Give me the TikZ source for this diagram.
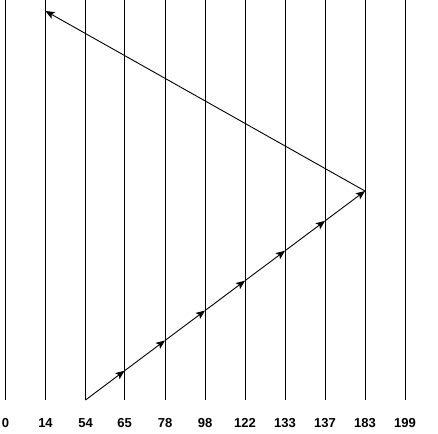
\documentclass[tikz,border=0pt]{standalone}
\usepackage{fontspec}
\setsansfont{Liberation Sans}
\usetikzlibrary{arrows.meta, positioning}

\tikzset{
    timeline/.style={black, line width=1pt},
    msg/.style={black, line width=0.9pt, -{Stealth[length=9pt, width=7.5pt, inset=2pt]}},
    tick label/.style={font=\sffamily\bfseries\fontsize{13}{15}\selectfont, anchor=base, inner sep=0pt}
}

\begin{document}
\begin{tikzpicture}[x=1pt, y=-1pt]
\useasboundingbox (0,0) rectangle (438,433);

% vertical lines with their labels
\foreach \x/\t [count=\i] in {5.5/0, 45.5/14, 85.5/54, 124.5/65, 165/78, 205/98, 245/122, 285/133, 325/137, 365/183, 405/199}{
    \coordinate (T\i) at (\x,0);
    \coordinate (B\i) at (\x,400);
    \draw[timeline] (T\i) -- (B\i);
    \node[tick label] (lab\i) at (\x,427) {\t};
}

\coordinate (S) at (85.5,400);
\coordinate (A1) at (124.5,370.8);
\coordinate (A2) at (165,340.5);
\coordinate (A3) at (205,310.6);
\coordinate (A4) at (245,280.7);
\coordinate (A5) at (285,250.8);
\coordinate (A6) at (325,220.9);
\coordinate (A7) at (365,191);
\coordinate (E) at (45.5,11);

% upward run, one arrow per line
\foreach \a/\b in {S/A1, A1/A2, A2/A3, A3/A4, A4/A5, A5/A6, A6/A7}
    \draw[msg] (\a) -- (\b);

% back to the left
\draw[msg] (A7) -- (E);
\end{tikzpicture}
\end{document}
